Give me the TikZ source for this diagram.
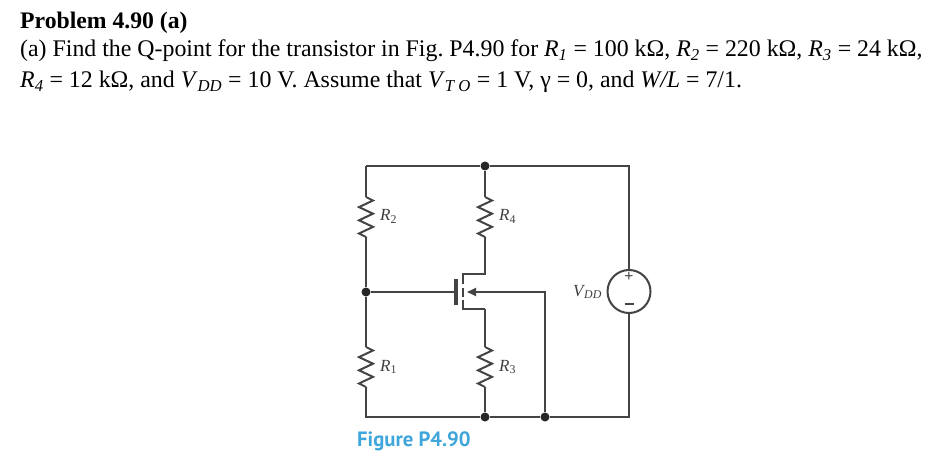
\documentclass[tikz,border=0pt]{standalone}
\usepackage{fontspec}
\setmainfont{Liberation Serif}
\newfontfamily\figfont{PT Sans}
\usetikzlibrary{arrows.meta}
\definecolor{wirec}{HTML}{444444}
\definecolor{figblue}{HTML}{3FA6DC}
\newcommand{\Rs}[2]{\textit{#1}\textsubscript{\textit{#2}}}
\newcommand{\Ru}[2]{\textit{#1}\textsubscript{#2}}
\frenchspacing
\tikzset{
  x=1pt,y=-1pt,
  wire/.style={draw=wirec,line width=2pt,line join=miter},
  plate/.style={draw=wirec,line width=4pt},
  chan/.style={draw=wirec,line width=2.6pt},
  junction/.style={circle,fill=black!85,inner sep=0pt,minimum size=9pt},
  source/.style={circle,draw=wirec,line width=2pt,fill=white,inner sep=0pt,minimum size=43pt},
  body/.style={anchor=base west,inner sep=0pt,font=\fontsize{23.85}{26}\selectfont,text=black},
  title/.style={anchor=base west,inner sep=0pt,font=\fontsize{23.7}{26}\selectfont\bfseries,text=black},
  rlabel/.style={anchor=base west,inner sep=0pt,font=\fontsize{17}{19}\selectfont,text=black!75},
  figlabel/.style={anchor=base west,inner sep=0pt,font=\figfont\bfseries\fontsize{20.7}{24}\selectfont,text=figblue},
  polar/.style={inner sep=0pt,font=\fontsize{16}{16}\selectfont\bfseries,text=wirec}
}
\newcommand{\zig}[2]{%
  \draw[wire] (#1) -- ++(7,3.5) -- ++(-14,6.6) -- ++(14,6.6) -- ++(-14,6.6) -- ++(14,6.6) -- ++(-14,6.6) -- ++(7,3.5) -- (#2);}
\begin{document}
\begin{tikzpicture}
\useasboundingbox (0,0) rectangle (948,473);
\fill[white] (0,0) rectangle (948,473);
\node[title] (t0) at (20,29) {Problem 4.90 (a)};
\node[body] (t1) at (20,57) {(a) Find the Q-point for the transistor in Fig. P4.90 for \Rs{R}{1} = 100 kΩ, \Rs{R}{2} = 220 kΩ, \Rs{R}{3} = 24 kΩ,};
\node[body] (t2) at (20,88) {\Rs{R}{4} = 12 kΩ, and \Rs{V}{DD} = 10 V. Assume that \Rs{V}{T O} = 1 V, γ = 0, and \textit{W/L} = 7/1.};

\node[junction] (top) at (485,166) {};
\node[junction] (gate) at (366,292) {};
\node[junction] (bot) at (485,417) {};
\node[junction] (bot2) at (545,417) {};
\coordinate (tl) at (366,166);
\coordinate (tr) at (629,166);
\coordinate (bl) at (366,417);
\coordinate (br) at (629,417);
\coordinate (r2a) at (366,197); \coordinate (r2b) at (366,237);
\coordinate (r4a) at (485,197); \coordinate (r4b) at (485,237);
\coordinate (r1a) at (366,347); \coordinate (r1b) at (366,387);
\coordinate (r3a) at (485,347); \coordinate (r3b) at (485,387);
\coordinate (gp) at (456,292);
\coordinate (dr) at (463,274);
\coordinate (drr) at (485,274);
\coordinate (sr) at (463,309);
\coordinate (srr) at (485,309);
\coordinate (bd) at (467,292);
\coordinate (bdr) at (545,292);
\node[source] (vdd) at (629,291.5) {};

\draw[wire] (tl) -- (top) -- (tr) -- (vdd.north);
\draw[wire] (vdd.south) -- (br) -- (bot2) -- (bot) -- (bl) -- (r1b);
\draw[wire] (tl) -- (r2a); \zig{r2a}{r2b}
\draw[wire] (r2b) -- (gate) -- (r1a); \zig{r1a}{r1b}
\draw[wire] (top) -- (r4a); \zig{r4a}{r4b}
\draw[wire] (r4b) -- (drr) -- (dr);
\draw[wire] (srr) -- (sr);
\draw[wire] (srr) -- (r3a); \zig{r3a}{r3b}
\draw[wire] (r3b) -- (bot);
\draw[wire] (gate) -- (gp);
\draw[wire,-{Triangle[length=9pt,width=8pt]}] (bot2) -- (bdr) -- (bd);
\draw[plate] (456,279) -- (456,305);
\draw[chan] (463,273) -- (463,284);
\draw[chan] (463,288) -- (463,297);
\draw[chan] (463,300) -- (463,310);

\node[rlabel] (lr2) at (380,221) {\Ru{R}{2}};
\node[rlabel] (lr4) at (499,221) {\Ru{R}{4}};
\node[rlabel] (lr1) at (380,371) {\Ru{R}{1}};
\node[rlabel] (lr3) at (499,371) {\Ru{R}{3}};
\node[rlabel] (lv) at (573,296) {\textit{V}\kern-1pt\textsubscript{\textit{DD}}};
\node[polar] (plus) at (629,277) {+};
\node[polar] (minus) at (629,304) {\rule{9pt}{1.2pt}};
\node[figlabel] (fig) at (357,446) {Figure P4.90};
\end{tikzpicture}
\end{document}
